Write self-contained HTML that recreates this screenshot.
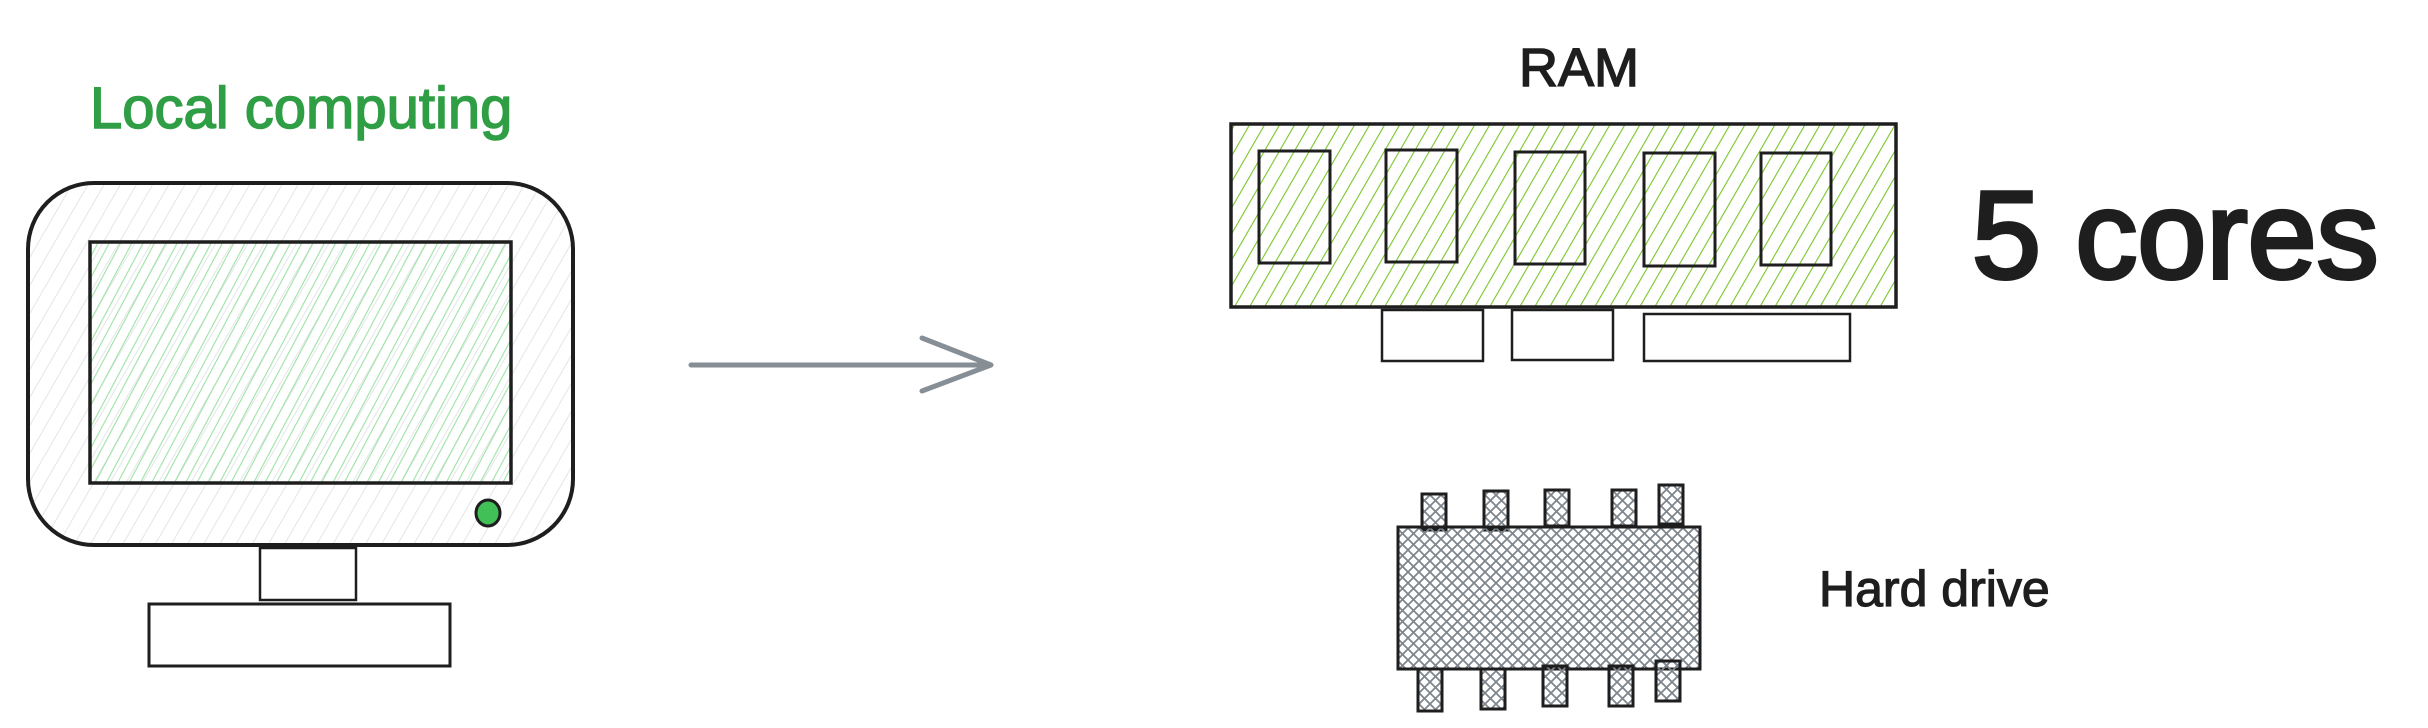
<!DOCTYPE html>
<html><head><meta charset="utf-8"><style>
html,body{margin:0;padding:0;background:#fff;width:2428px;height:728px;overflow:hidden}
svg{display:block}
text{font-family:"Liberation Sans",sans-serif}
</style></head><body>
<svg width="2428" height="728" viewBox="0 0 2428 728" xmlns="http://www.w3.org/2000/svg">
<defs>
<pattern id="hg" width="14" height="14" patternUnits="userSpaceOnUse" patternTransform="rotate(30)">
<line x1="0" y1="0" x2="0" y2="14" stroke="#e3e5e8" stroke-width="2"/></pattern>
<pattern id="hl" width="10" height="10" patternUnits="userSpaceOnUse" patternTransform="rotate(28)">
<line x1="0" y1="0" x2="0" y2="10" stroke="#9ce2a6" stroke-width="2.2"/></pattern>
<pattern id="hr" width="13" height="13" patternUnits="userSpaceOnUse" patternTransform="rotate(30)">
<line x1="0" y1="0" x2="0" y2="13" stroke="#7ac52a" stroke-width="2.2"/></pattern>
<pattern id="hx" width="11" height="11" patternUnits="userSpaceOnUse">
<path d="M0 0L11 11M11 0L0 11" stroke="#7f868d" stroke-width="1.8"/></pattern>
</defs>
<text x="90" y="128" font-size="58" fill="#2f9e44" stroke="#2f9e44" stroke-width="1.5">Local computing</text>
<rect x="28" y="183" width="545" height="362" rx="66" fill="url(#hg)" stroke="#1e1e1e" stroke-width="4"/>
<rect x="90" y="242" width="421" height="241" fill="url(#hl)" stroke="#1e1e1e" stroke-width="3.5"/>
<ellipse cx="488" cy="513" rx="12" ry="13" fill="#40c057" stroke="#1e1e1e" stroke-width="3"/>
<rect x="260" y="548" width="96" height="52" fill="#fff" stroke="#1e1e1e" stroke-width="2.5"/>
<rect x="149" y="604" width="301" height="62" fill="#fff" stroke="#1e1e1e" stroke-width="3"/>
<path d="M691 365H989M922 338L991 365L922 391" fill="none" stroke="#868e96" stroke-width="5" stroke-linecap="round" stroke-linejoin="round"/>
<text x="1579" y="86" font-size="54" text-anchor="middle" fill="#1e1e1e" stroke="#1e1e1e" stroke-width="1.5">RAM</text>
<rect x="1231" y="124" width="665" height="183" fill="url(#hr)" stroke="#1e1e1e" stroke-width="3.5"/>
<g fill="none" stroke="#1e1e1e" stroke-width="3">
<rect x="1259" y="151" width="71" height="112"/>
<rect x="1386" y="150" width="71" height="112"/>
<rect x="1515" y="152" width="70" height="112"/>
<rect x="1644" y="153" width="71" height="113"/>
<rect x="1761" y="153" width="70" height="112"/>
</g>
<g fill="#fff" stroke="#1e1e1e" stroke-width="2.5">
<rect x="1382" y="310" width="101" height="51"/>
<rect x="1512" y="310" width="101" height="50"/>
<rect x="1644" y="314" width="206" height="47"/>
</g>
<text x="1972" y="278" font-size="124" fill="#1e1e1e" stroke="#1e1e1e" stroke-width="4">5 cores</text>
<g fill="url(#hx)" stroke="#1e1e1e" stroke-width="3">
<rect x="1422" y="494" width="24" height="36"/>
<rect x="1484" y="491" width="24" height="39"/>
<rect x="1545" y="490" width="24" height="36"/>
<rect x="1612" y="490" width="24" height="36"/>
<rect x="1659" y="485" width="24" height="39"/>
<rect x="1398" y="527" width="302" height="142"/>
<rect x="1418" y="669" width="24" height="42"/>
<rect x="1481" y="669" width="24" height="40"/>
<rect x="1543" y="666" width="24" height="40"/>
<rect x="1609" y="666" width="24" height="40"/>
<rect x="1656" y="661" width="24" height="40"/>
</g>
<text x="1819" y="606" font-size="50" fill="#1e1e1e" stroke="#1e1e1e" stroke-width="1.2">Hard drive</text>
</svg>
</body></html>
